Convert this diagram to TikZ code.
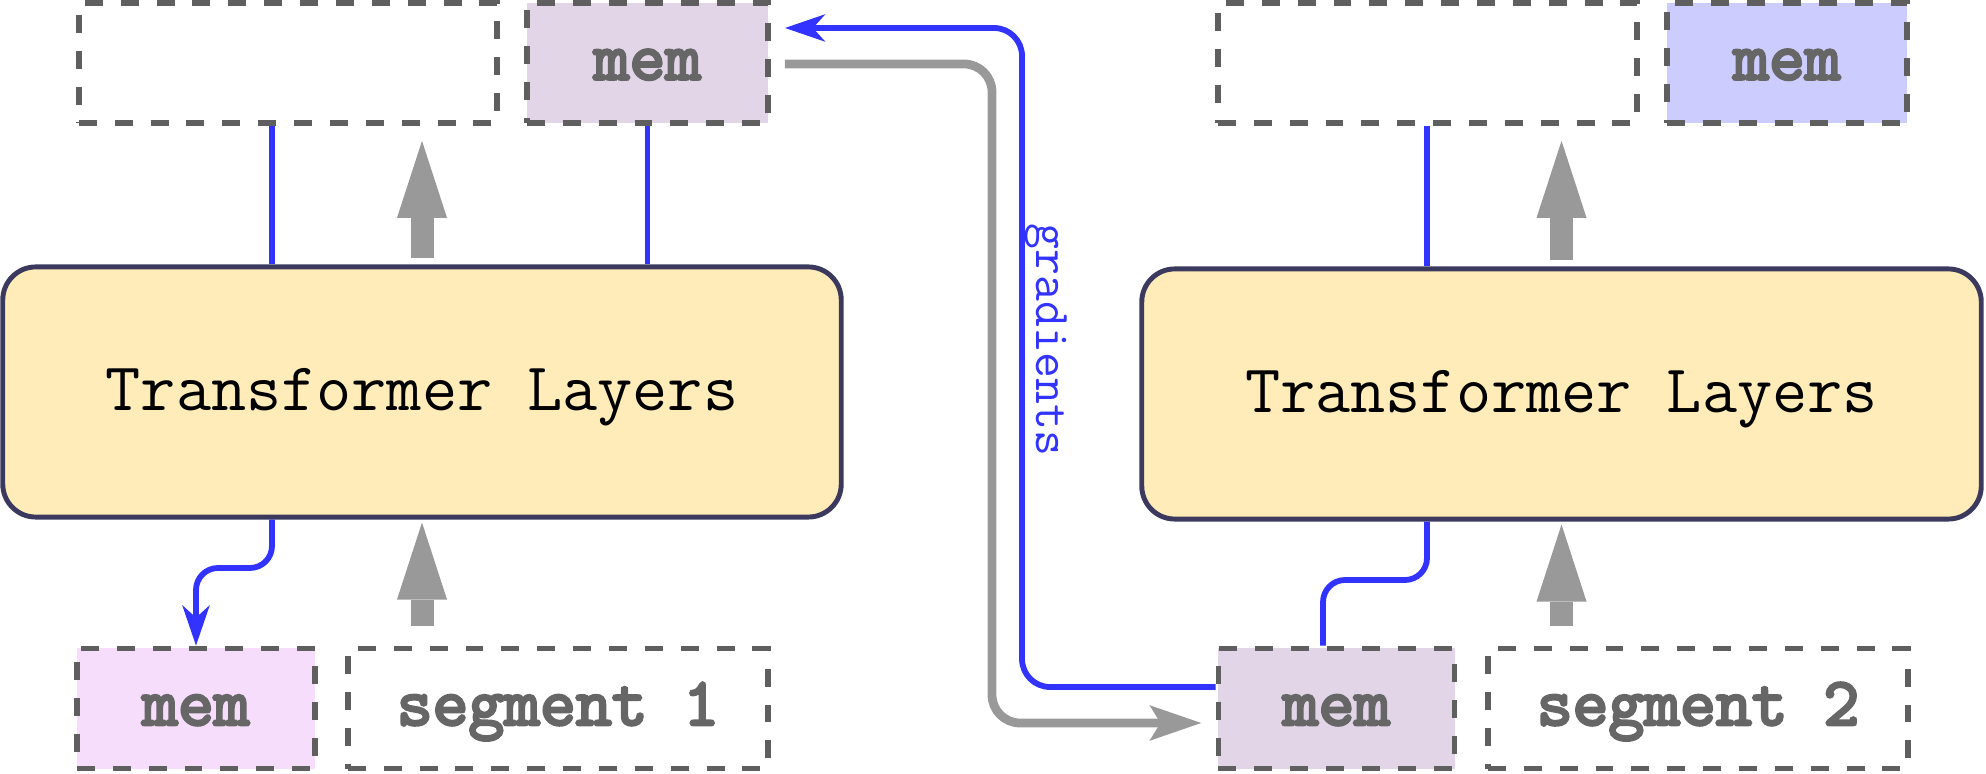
\documentclass[tikz,border=0pt]{standalone}
\usepackage{fontspec}
\newfontfamily\memfont{lmmono10-regular}[Extension=.otf,FakeBold=4]
\usetikzlibrary{arrows.meta}
\definecolor{gradblue}{HTML}{3333FF}
\definecolor{flowgray}{HTML}{999999}
\definecolor{dashgray}{HTML}{5F5F5F}
\definecolor{labelgray}{HTML}{666666}
\definecolor{layerfill}{HTML}{FFECB9}
\definecolor{layerdraw}{HTML}{3B3A5E}
\definecolor{memgray}{HTML}{E1D5E7}
\definecolor{memblue}{HTML}{CCCCFF}
\definecolor{mempink}{HTML}{F5DDFB}
\tikzset{
 segbox/.style={draw=dashgray,line width=1.6pt,dash pattern=on 5.1pt off 5.1pt,minimum height=1.2cm,inner sep=0pt,text=labelgray,text height=0.33cm,text depth=0pt,font=\fontsize{19.4}{22}\selectfont\memfont},
 layerbox/.style={draw=layerdraw,fill=layerfill,line width=1.4pt,rounded corners=0.33cm,minimum width=8.38cm,minimum height=2.5cm,text height=0.36cm,text depth=0pt,font=\fontsize{19.4}{22}\selectfont\ttfamily},
 gradline/.style={draw=gradblue,line width=1.65pt},
 gradtip/.style={-{Stealth[length=0.4cm,width=0.27cm,inset=0.12cm]}},
 copyline/.style={draw=flowgray,line width=2.5pt,rounded corners=0.28cm,-{Stealth[length=0.51cm,width=0.34cm,inset=0.1cm]}},
 upflow/.style={draw=flowgray,line width=0.23cm,-{Triangle[length=0.77cm,width=0.5cm,line width=0pt]}}
}
\begin{document}
\begin{tikzpicture}[x=0.01cm,y=-0.01cm]
\useasboundingbox (0,0) rectangle (1986,774);
% segment 1
\node[segbox,minimum width=4.18cm] (outL) at (288,63) {};
\node[segbox,fill=memgray,minimum width=2.41cm] (memL) at (647.5,63) {mem};
\node[layerbox] (tfL) at (422,392) {Transformer Layers};
\node[segbox,fill=mempink,minimum width=2.38cm] (memB1) at (196,708.5) {mem};
\node[segbox,minimum width=4.2cm] (seg1) at (558,708.5) {segment 1};
% segment 2
\node[segbox,minimum width=4.19cm] (outR) at (1427.5,63) {};
\node[segbox,fill=memblue,minimum width=2.4cm] (memR) at (1787,63) {mem};
\node[layerbox,minimum width=8.39cm] (tfR) at (1561.5,394) {Transformer Layers};
\node[segbox,fill=memgray,minimum width=2.36cm] (memB2) at (1336.5,708.5) {mem};
\node[segbox,minimum width=4.2cm] (seg2) at (1698,708.5) {segment 2};
% flows
\draw[upflow,shorten <=0.06cm,shorten >=0.15cm] (tfL.north) -- (tfL.north |- outL.south);
\draw[upflow,shorten <=0.2cm,shorten >=0.03cm] (tfL.south |- seg1.north) -- (tfL.south);
\draw[upflow,shorten <=0.06cm,shorten >=0.15cm] (tfR.north) -- (tfR.north |- outR.south);
\draw[upflow,shorten <=0.2cm,shorten >=0.03cm] (tfR.south |- seg2.north) -- (tfR.south);
\draw[gradline] (272,0 |- tfL.north) -- (272,0 |- outL.south);
\draw[gradline] (memL.south |- tfL.north) -- (memL.south);
\draw[gradline] (1427,0 |- tfR.north) -- (1427,0 |- outR.south);
\draw[gradline,gradtip,rounded corners=0.22cm] (272,0 |- tfL.south) -- (272,568) -- (memB1.north |- 0,568) -- (memB1.north);
\draw[gradline,rounded corners=0.22cm] (1427,0 |- tfR.south) -- (1427,580) -- (1323,580) -- (1323,0 |- memB2.north);
% gradients and copy
\draw[gradline,gradtip,rounded corners=0.28cm,shorten >=0.14cm] (memB2.west |- 0,687) -- (1022,687) -- (1022,28) -- (memL.east |- 0,28);
\node[text=gradblue,font=\fontsize{14.3}{17}\selectfont\ttfamily,rotate=-90] (gradlabel) at (1046,340) {gradients};
\draw[copyline,shorten <=0.14cm,shorten >=0.14cm] (memL.east |- 0,64) -- (992,64) -- (992,723) -- (memB2.west |- 0,723);
\end{tikzpicture}
\end{document}
